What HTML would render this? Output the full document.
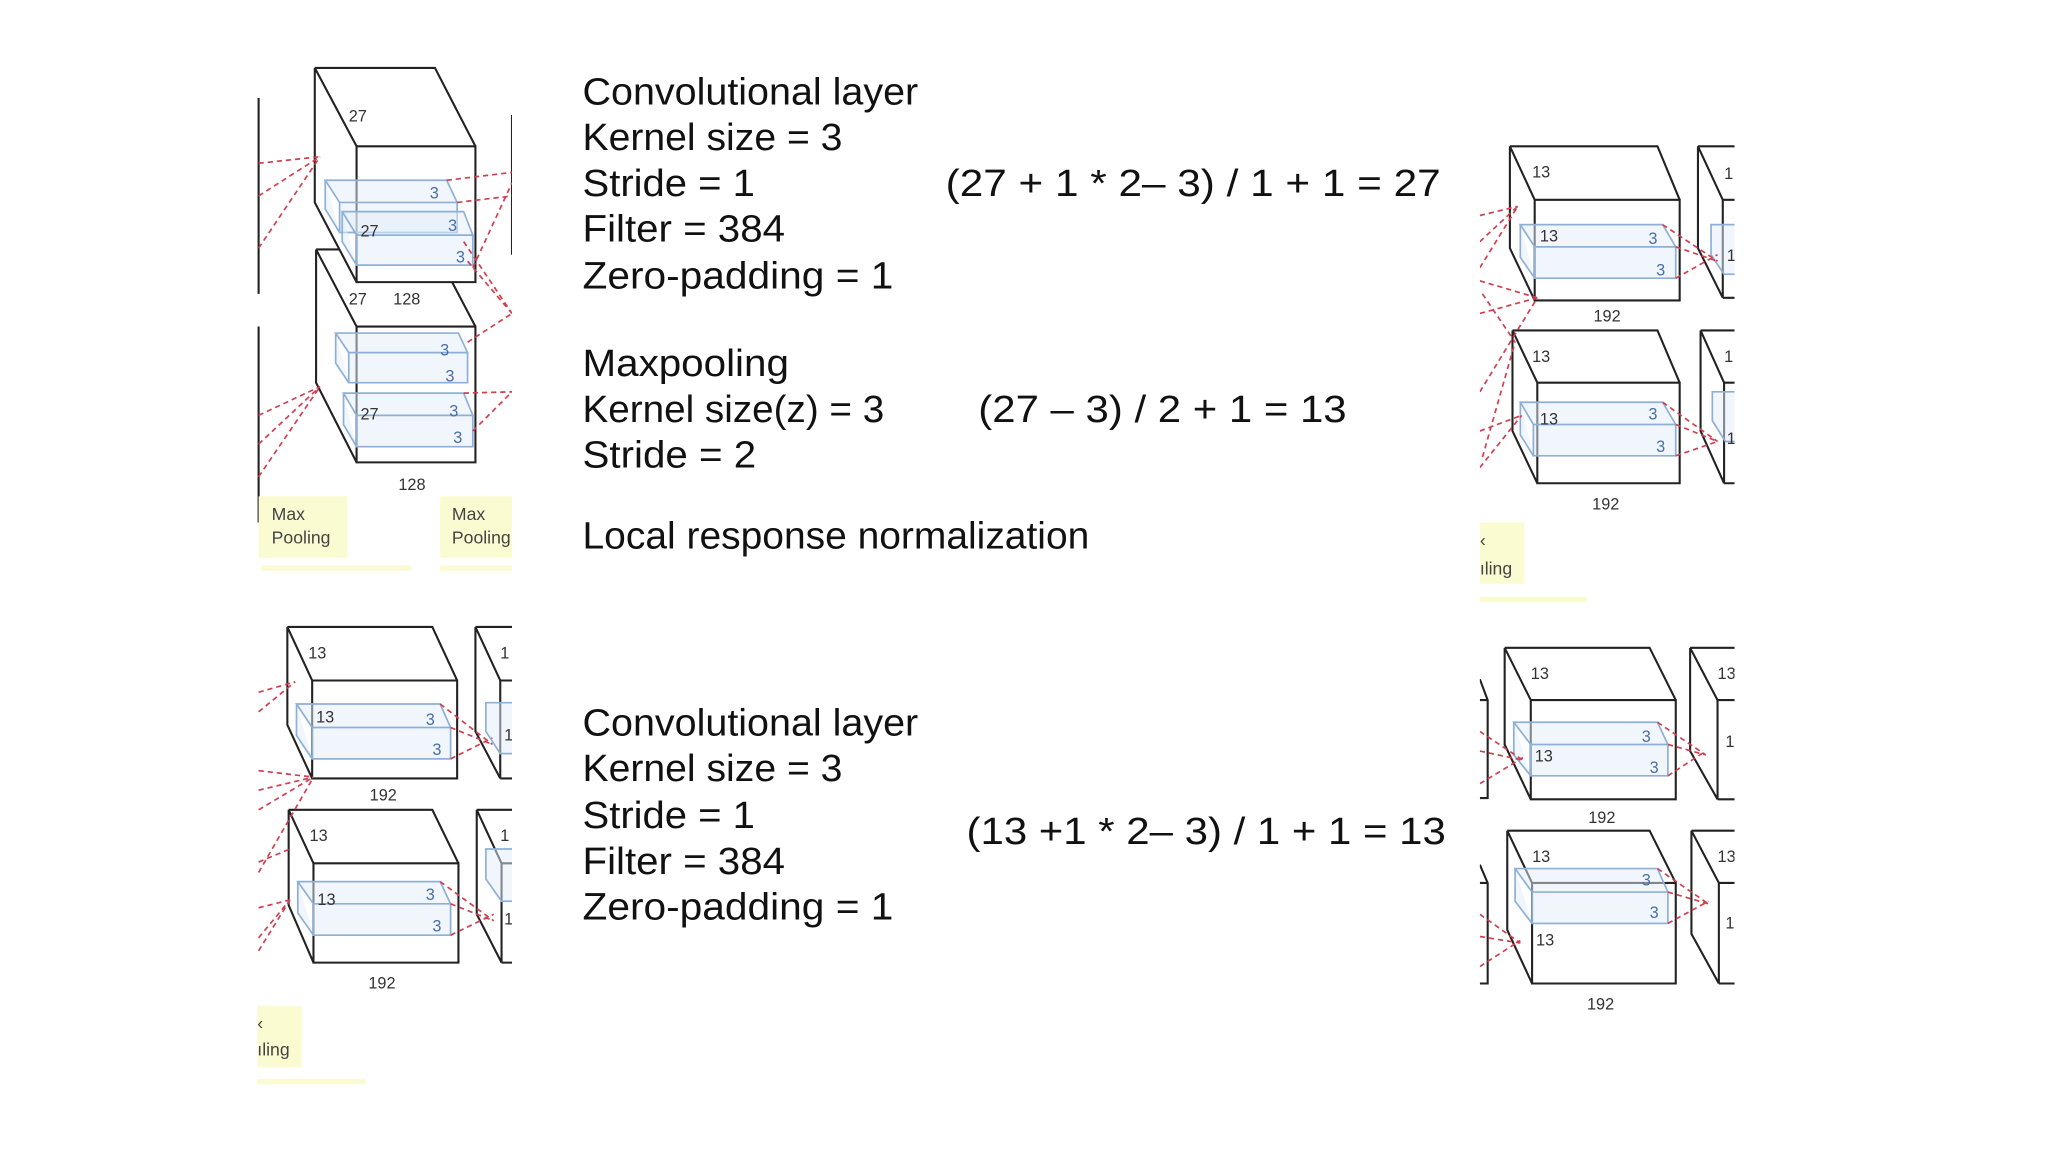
<!DOCTYPE html>
<html><head><meta charset="utf-8"><style>
html,body{margin:0;padding:0;background:#fff;}
svg{display:block;}
.t{font-family:"Liberation Sans",sans-serif;font-size:29px;fill:#111;}
.s{font-family:"Liberation Sans",sans-serif;font-size:12.5px;fill:#333;}
.b{font-family:"Liberation Sans",sans-serif;font-size:12.5px;fill:#4a6fa5;}
.y{font-family:"Liberation Sans",sans-serif;font-size:13.5px;fill:#444;}
.k{stroke:#222;stroke-width:1.6;fill:none;}
.w{fill:#fff;stroke:none;}
.bl{stroke:#8fb0d6;stroke-width:1.3;fill:rgba(225,238,250,0.5);}
.r{stroke:#d04050;stroke-width:1.3;stroke-dasharray:4 3;fill:none;}
.ye{fill:#fbfbd2;}
</style></head><body>
<svg width="2048" height="1152" viewBox="0 0 1568 882" xmlns="http://www.w3.org/2000/svg">
<rect width="1568" height="882" fill="#fff"/>

<!-- ============ TOP LEFT ============ -->
<g>
<line class="k" x1="198" y1="75" x2="198" y2="225"/>
<line class="k" x1="198" y1="250" x2="198" y2="400"/>
<line class="k" x1="392" y1="88" x2="392" y2="195"/>
<!-- box2 -->
<polygon class="w" points="242,191 333,191 364,250 364,354 273,354 242,293"/>
<path class="k" d="M242,191 L333,191 L364,250 M242,191 L242,293 L273,354 M242,191 L273,250 M273,250 H364 V354 H273 Z"/>
<!-- box1 -->
<polygon class="w" points="241,52 333,52 364,112 364,216 273,216 241,155"/>
<path class="k" d="M241,52 L333,52 L364,112 M241,52 L241,155 L273,216 M241,52 L273,112 M273,112 H364 V216 H273 Z"/>
<!-- prisms box1 -->
<path class="bl" d="M249,138 L342,138 L350,155 L260,155 Z M260,155 H350 V178 H260 Z M249,138 L249,160 L260,178"/>
<path class="bl" d="M262,162 L355,162 L362,180 L273,180 Z M273,180 H362 V203 H273 Z M262,162 L262,185 L273,203"/>
<!-- prisms box2 -->
<path class="bl" d="M257,255 L351,255 L358,270 L267,270 Z M267,270 H358 V293 H267 Z M257,255 L257,278 L267,293"/>
<path class="bl" d="M263,301 L355,301 L362,318 L273,318 Z M273,318 H362 V342 H273 Z M263,301 L263,325 L273,342"/>
<text class="s" x="267" y="93">27</text>
<text class="s" x="276" y="181">27</text>
<text class="s" x="267" y="233">27</text>
<text class="s" x="301" y="233">128</text>
<text class="s" x="276" y="321">27</text>
<text class="s" x="305" y="375">128</text>
<text class="b" x="329" y="152">3</text>
<text class="b" x="343" y="177">3</text>
<text class="b" x="349" y="201">3</text>
<text class="b" x="337" y="272">3</text>
<text class="b" x="341" y="292">3</text>
<text class="b" x="344" y="319">3</text>
<text class="b" x="347" y="339">3</text>
<path class="r" d="M198,190 L245,120 M198,150 L245,120 M198,125 L245,120 M198,365 L245,296 M198,340 L245,296 M198,318 L245,296 M342,138 L392,132 M350,155 L392,150 M355,185 L392,240 M358,200 L392,240 M358,262 L392,240 M355,301 L392,300 M362,330 L392,300 M362,205 L392,140"/>
<rect class="ye" x="198" y="380" width="68" height="47"/>
<rect class="ye" x="337" y="380" width="55" height="47"/>
<rect class="ye" x="200" y="433" width="115" height="4"/>
<rect class="ye" x="337" y="433" width="55" height="4"/>
<text class="y" x="208" y="398">Max</text>
<text class="y" x="208" y="416">Pooling</text>
<text class="y" x="346" y="398">Max</text>
<text class="y" x="346" y="416">Pooling</text>
<rect x="392" y="40" width="10" height="420" fill="#fff"/>
</g>

<!-- ============ TOP RIGHT ============ -->
<g>
<!-- right partials -->
<path class="k" d="M1300,112 L1319,153 L1319,228 M1300,112 L1300,190 L1319,228 M1300,112 H1330 M1319,153 H1330 M1319,228 H1330"/>
<path class="k" d="M1302,253 L1320,293 L1320,370 M1302,253 L1302,330 L1320,370 M1302,253 H1330 M1320,293 H1330 M1320,370 H1330"/>
<path class="bl" d="M1310,172 L1330,172 L1330,210 L1320,210 L1310,195 Z"/>
<path class="bl" d="M1311,300 L1330,300 L1330,338 L1321,338 L1311,322 Z"/>
<text class="s" x="1320" y="137">1</text>
<text class="s" x="1322" y="200">1</text>
<text class="s" x="1320" y="277">1</text>
<text class="s" x="1322" y="340">1</text>
<!-- box A -->
<polygon class="w" points="1156,112 1269,112 1286,153 1286,230 1175,230 1156,209"/>
<path class="k" d="M1156,112 L1269,112 L1286,153 M1156,112 L1156,190 L1175,230 M1156,112 L1175,153 M1175,153 H1286 V230 H1175 Z"/>
<path class="bl" d="M1164,172 L1273,172 L1283,189 L1175,189 Z M1175,189 H1283 V213 H1175 Z M1164,172 L1164,197 L1175,213"/>
<!-- box B -->
<polygon class="w" points="1158,253 1269,253 1286,293 1286,370 1177,370 1158,330"/>
<path class="k" d="M1158,253 L1269,253 L1286,293 M1158,253 L1158,330 L1177,370 M1158,253 L1177,293 M1177,293 H1286 V370 H1177 Z"/>
<path class="bl" d="M1164,308 L1273,308 L1283,325 L1174,325 Z M1174,325 H1283 V349 H1174 Z M1164,308 L1164,333 L1174,349"/>
<text class="s" x="1173" y="136">13</text>
<text class="s" x="1179" y="185">13</text>
<text class="b" x="1262" y="187">3</text>
<text class="b" x="1268" y="211">3</text>
<text class="s" x="1220" y="246">192</text>
<text class="s" x="1173" y="277">13</text>
<text class="s" x="1179" y="325">13</text>
<text class="b" x="1262" y="321">3</text>
<text class="b" x="1268" y="346">3</text>
<text class="s" x="1219" y="390">192</text>
<path class="r" d="M1133,185 L1162,158 M1133,165 L1162,158 M1133,205 L1162,158 M1133,215 L1177,228 M1133,240 L1177,228 M1133,300 L1177,228 M1135,225 L1160,262 M1135,350 L1160,262 M1133,330 L1165,318 M1133,358 L1165,318 M1273,172 L1315,200 M1283,189 L1315,200 M1283,213 L1315,195 M1273,308 L1315,338 M1283,325 L1315,338 M1283,349 L1315,338"/>
<rect class="ye" x="1133" y="400" width="34" height="47"/>
<rect class="ye" x="1133" y="457" width="82" height="4"/>
<text class="y" x="1133" y="418">‹</text>
<text class="y" x="1133" y="440">ıling</text>
<rect x="1328" y="90" width="20" height="300" fill="#fff"/>
<rect x="1118" y="90" width="15" height="300" fill="#fff"/>
</g>

<!-- ============ BOTTOM LEFT ============ -->
<g>
<path class="k" d="M364,480 L383,521 L383,596 M364,480 L364,560 L383,596 M364,480 H395 M383,521 H395 M383,596 H395"/>
<path class="k" d="M365,620 L384,661 L384,737 M365,620 L365,700 L384,737 M365,620 H395 M384,661 H395 M384,737 H395"/>
<path class="bl" d="M372,538 L395,538 L395,577 L383,577 L372,560 Z"/>
<path class="bl" d="M372,650 L395,650 L395,690 L384,690 L372,673 Z"/>
<text class="s" x="383" y="504">1</text>
<text class="s" x="386" y="567">1</text>
<text class="s" x="383" y="644">1</text>
<text class="s" x="386" y="708">1</text>
<polygon class="w" points="220,480 331,480 350,521 350,596 239,596 220,555"/>
<path class="k" d="M220,480 L331,480 L350,521 M220,480 L220,555 L239,596 M220,480 L239,521 M239,521 H350 V596 H239 Z"/>
<path class="bl" d="M227,539 L337,539 L345,557 L239,557 Z M239,557 H345 V581 H239 Z M227,539 L227,563 L239,581"/>
<polygon class="w" points="221,620 331,620 351,661 351,737 240,737 221,693"/>
<path class="k" d="M221,620 L331,620 L351,661 M221,620 L221,693 L240,737 M221,620 L240,661 M240,661 H351 V737 H240 Z"/>
<path class="bl" d="M228,675 L337,675 L345,692 L240,692 Z M240,692 H345 V716 H240 Z M228,675 L228,699 L240,716"/>
<text class="s" x="236" y="504">13</text>
<text class="s" x="242" y="553">13</text>
<text class="b" x="326" y="555">3</text>
<text class="b" x="331" y="578">3</text>
<text class="s" x="283" y="613">192</text>
<text class="s" x="237" y="644">13</text>
<text class="s" x="243" y="693">13</text>
<text class="b" x="326" y="689">3</text>
<text class="b" x="331" y="713">3</text>
<text class="s" x="282" y="757">192</text>
<path class="r" d="M198,530 L226,522 M198,545 L226,522 M198,590 L240,595 M198,605 L240,595 M198,620 L240,595 M198,668 L240,595 M198,660 L222,650 M198,695 L222,689 M198,718 L222,689 M198,728 L222,689 M337,539 L377,570 M345,557 L377,570 M345,581 L377,565 M337,675 L378,705 M345,692 L378,705 M345,716 L378,700"/>
<rect class="ye" x="197" y="770" width="34" height="47"/>
<rect class="ye" x="197" y="826" width="83" height="4"/>
<text class="y" x="197" y="788">‹</text>
<text class="y" x="197" y="808">ıling</text>
<rect x="392" y="460" width="20" height="300" fill="#fff"/>
<rect x="180" y="460" width="17" height="300" fill="#fff"/>
</g>

<!-- ============ BOTTOM RIGHT ============ -->
<g>
<path class="k" d="M1294,496 L1315,536 L1315,612 M1294,496 L1294,575 L1315,612 M1294,496 H1330 M1315,536 H1330 M1315,612 H1330"/>
<path class="k" d="M1295,636 L1316,676 L1316,753 M1295,636 L1295,715 L1316,753 M1295,636 H1330 M1316,676 H1330 M1316,753 H1330"/>
<text class="s" x="1315" y="520">13</text>
<text class="s" x="1321" y="572">1</text>
<text class="s" x="1315" y="660">13</text>
<text class="s" x="1321" y="711">1</text>
<path class="k" d="M1133,520 L1139,536 L1139,611 H1133 M1133,536 H1139"/>
<path class="k" d="M1133,662 L1139,676 L1139,753 H1133 M1133,676 H1139"/>
<polygon class="w" points="1152,496 1263,496 1283,536 1283,612 1172,612 1152,570"/>
<path class="k" d="M1152,496 L1263,496 L1283,536 M1152,496 L1152,570 L1172,612 M1152,496 L1172,536 M1172,536 H1283 V612 H1172 Z"/>
<path class="bl" d="M1159,553 L1269,553 L1277,570 L1172,570 Z M1172,570 H1277 V594 H1172 Z M1159,553 L1159,578 L1172,594"/>
<polygon class="w" points="1154,636 1263,636 1283,676 1283,753 1173,753 1154,712"/>
<path class="k" d="M1154,636 L1263,636 L1283,676 M1154,636 L1154,712 L1173,753 M1154,636 L1173,676 M1173,676 H1283 V753 H1173 Z"/>
<path class="bl" d="M1160,665 L1269,665 L1277,683 L1173,683 Z M1173,683 H1277 V707 H1173 Z M1160,665 L1160,690 L1173,707"/>
<text class="s" x="1172" y="520">13</text>
<text class="s" x="1175" y="583">13</text>
<text class="b" x="1257" y="568">3</text>
<text class="b" x="1263" y="592">3</text>
<text class="s" x="1216" y="630">192</text>
<text class="s" x="1173" y="660">13</text>
<text class="s" x="1176" y="724">13</text>
<text class="b" x="1257" y="678">3</text>
<text class="b" x="1263" y="703">3</text>
<text class="s" x="1215" y="773">192</text>
<path class="r" d="M1133,560 L1166,582 M1133,575 L1166,582 M1133,600 L1166,580 M1133,700 L1164,722 M1133,717 L1164,722 M1133,740 L1164,720 M1269,553 L1306,578 M1277,570 L1306,578 M1277,594 L1306,575 M1269,665 L1308,692 M1277,683 L1308,692 M1277,707 L1308,690"/>
<rect x="1328" y="480" width="20" height="300" fill="#fff"/>
<rect x="1118" y="480" width="15" height="300" fill="#fff"/>
</g>

<!-- ============ TEXT ============ -->
<text class="t" x="446" y="80" textLength="257" lengthAdjust="spacingAndGlyphs">Convolutional layer</text>
<text class="t" x="446" y="115" textLength="199" lengthAdjust="spacingAndGlyphs">Kernel size = 3</text>
<text class="t" x="446" y="150" textLength="132" lengthAdjust="spacingAndGlyphs">Stride = 1</text>
<text class="t" x="446" y="185" textLength="155" lengthAdjust="spacingAndGlyphs">Filter = 384</text>
<text class="t" x="446" y="221" textLength="238" lengthAdjust="spacingAndGlyphs">Zero-padding = 1</text>
<text class="t" x="724" y="150" textLength="379" lengthAdjust="spacingAndGlyphs">(27 + 1 * 2– 3) / 1 + 1 = 27</text>
<text class="t" x="446" y="288" textLength="158" lengthAdjust="spacingAndGlyphs">Maxpooling</text>
<text class="t" x="446" y="323" textLength="231" lengthAdjust="spacingAndGlyphs">Kernel size(z) = 3</text>
<text class="t" x="446" y="358" textLength="133" lengthAdjust="spacingAndGlyphs">Stride = 2</text>
<text class="t" x="749" y="323" textLength="282" lengthAdjust="spacingAndGlyphs">(27 – 3) / 2 + 1 = 13</text>
<text class="t" x="446" y="420" textLength="388" lengthAdjust="spacingAndGlyphs">Local response normalization</text>
<text class="t" x="446" y="563" textLength="257" lengthAdjust="spacingAndGlyphs">Convolutional layer</text>
<text class="t" x="446" y="598" textLength="199" lengthAdjust="spacingAndGlyphs">Kernel size = 3</text>
<text class="t" x="446" y="634" textLength="132" lengthAdjust="spacingAndGlyphs">Stride = 1</text>
<text class="t" x="446" y="669" textLength="155" lengthAdjust="spacingAndGlyphs">Filter = 384</text>
<text class="t" x="446" y="704" textLength="238" lengthAdjust="spacingAndGlyphs">Zero-padding = 1</text>
<text class="t" x="740" y="646" textLength="367" lengthAdjust="spacingAndGlyphs">(13 +1 * 2– 3) / 1 + 1 = 13</text>
</svg>
</body></html>
